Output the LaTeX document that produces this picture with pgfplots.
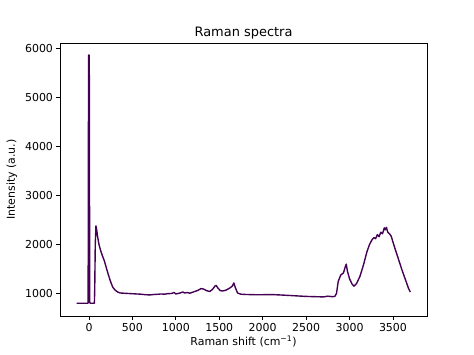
\documentclass[border=0pt]{standalone}
\usepackage{pgfplots}
\pgfplotsset{compat=1.18}
\usepackage{fontspec}
\setmainfont{DejaVu Sans}
\definecolor{vir}{HTML}{440154}
\begin{document}
\begin{tikzpicture}
\begin{axis}[
 scale only axis, width=367bp, height=273bp,
 xmin=-334, xmax=3892, ymin=540, ymax=6115,
 xtick={0,500,...,3500}, ytick={1000,2000,...,6000},
 tick align=outside, xtick pos=bottom, ytick pos=left,
 major tick length=3.5bp,
 tick style={black, line width=0.8bp},
 axis line style={line width=0.8bp},
 /pgf/number format/assume math mode=true,
 /pgf/number format/1000 sep={},
 ticklabel style={font=\fontsize{11}{13}\selectfont},
 label style={font=\fontsize{11}{13}\selectfont},
 title={Raman spectra}, title style={font=\fontsize{13}{15}\selectfont, yshift=-6bp},
 xlabel={Raman shift (cm\textsuperscript{−1})},
 ylabel={Intensity (a.u.)},
 xlabel style={yshift=2bp},
 ylabel style={yshift=1bp},
]
\addplot[vir, line width=1.4pt, line join=round] coordinates {
(-142,800) (-100,800) (-60,800) (-20,800) (-10,805) (-8,3000) (-5,5870) (3,5870) (6,3000) (9,820) (14,800) (40,800) (62,800)
(66,1100) (72,2000) (80,2380) (90,2280) (100,2150) (115,2000) (130,1900) (150,1790) (176,1670) (200,1520) (220,1400)
(245,1260) (273,1130) (300,1070) (330,1030) (360,1010) (400,1005) (450,1000) (500,995) (550,990) (600,985) (650,975)
(700,970) (750,980) (800,985) (830,990) (870,985) (900,995) (950,1000) (980,1020) (1000,990) (1050,1010) (1080,1030)
(1100,1010) (1130,1020) (1160,1005) (1200,1030) (1250,1060) (1290,1100) (1320,1090) (1350,1060) (1390,1040) (1420,1080)
(1450,1150) (1465,1165) (1480,1120) (1510,1060) (1540,1050) (1580,1070) (1620,1110) (1650,1150) (1668,1215) (1685,1120)
(1710,1010) (1750,985) (1800,980) (1900,975) (2000,975) (2100,978) (2200,970) (2300,960) (2400,950) (2500,940) (2600,935)
(2700,930) (2750,945) (2800,935) (2830,940) (2850,1000) (2870,1250) (2900,1380) (2930,1420) (2950,1540) (2962,1600)
(2975,1460) (3000,1300) (3030,1190) (3050,1150) (3080,1200) (3120,1350) (3160,1580) (3200,1850) (3230,2000) (3260,2100)
(3280,2140) (3300,2120) (3320,2200) (3340,2160) (3360,2250) (3380,2220) (3400,2340) (3410,2300) (3425,2350) (3440,2250)
(3460,2220) (3480,2170) (3500,2050) (3530,1880) (3560,1720) (3600,1500) (3640,1300) (3680,1100) (3700,1030)
};
\end{axis}
\path ([xshift=-60bp,yshift=-39bp]current axis.south west) rectangle ([xshift=47bp,yshift=43bp]current axis.north east);
\end{tikzpicture}
\end{document}
